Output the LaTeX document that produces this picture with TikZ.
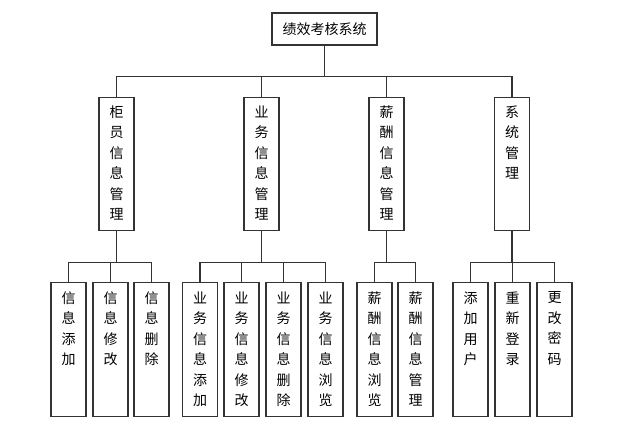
\documentclass[tikz,border=0pt]{standalone}
\usepackage{fontspec}
\setmainfont{Noto Sans CJK SC}
\begin{document}
\begin{tikzpicture}[x=1pt,y=-1pt,
  linecol/.style={draw=black!80, line width=1.2pt},
  rootbox/.style={linecol, fill=white, minimum width=105pt, minimum height=32pt, inner sep=0pt, font=\fontsize{14pt}{20pt}\selectfont},
  vbox/.style={linecol, fill=white, inner sep=0pt, anchor=north, font=\fontsize{14pt}{20.5pt}\selectfont},
  conn/.style={linecol}]
\useasboundingbox (0,0) rectangle (634,428);
\newcommand{\vtxt}[3]{\parbox[c][#1pt][t]{35pt}{\centering\vspace*{#2pt}#3\par}}
\node[rootbox] (root) at (324.5,29) {绩效考核系统};
% level 1
\node[vbox] (a1) at (116.5,97) {\vtxt{133}{8}{柜\\员\\信\\息\\管\\理}};
\node[vbox] (a2) at (261.5,97) {\vtxt{133}{8}{业\\务\\信\\息\\管\\理}};
\node[vbox] (a3) at (386.5,97) {\vtxt{133}{8}{薪\\酬\\信\\息\\管\\理}};
\node[vbox] (a4) at (512,97) {\vtxt{133}{8}{系\\统\\管\\理}};
% level 2
\node[vbox] (b11) at (68.5,282) {\vtxt{134}{9}{信\\息\\添\\加}};
\node[vbox] (b12) at (110.5,282) {\vtxt{134}{9}{信\\息\\修\\改}};
\node[vbox] (b13) at (151.5,282) {\vtxt{134}{9}{信\\息\\删\\除}};
\node[vbox] (b21) at (200,282) {\vtxt{134}{9}{业\\务\\信\\息\\添\\加}};
\node[vbox] (b22) at (241.5,282) {\vtxt{134}{9}{业\\务\\信\\息\\修\\改}};
\node[vbox] (b23) at (283.5,282) {\vtxt{134}{9}{业\\务\\信\\息\\删\\除}};
\node[vbox] (b24) at (325.5,282) {\vtxt{134}{9}{业\\务\\信\\息\\浏\\览}};
\node[vbox] (b31) at (374.5,282) {\vtxt{134}{9}{薪\\酬\\信\\息\\浏\\览}};
\node[vbox] (b32) at (415.5,282) {\vtxt{134}{9}{薪\\酬\\信\\息\\管\\理}};
\node[vbox] (b41) at (470.5,282) {\vtxt{134}{9}{添\\加\\用\\户}};
\node[vbox] (b42) at (512.5,282) {\vtxt{134}{9}{重\\新\\登\\录}};
\node[vbox] (b43) at (554.5,282) {\vtxt{134}{9}{更\\改\\密\\码}};
% connectors
\foreach \c in {a1,a2,a3,a4} \draw[conn] (root.south) -- ++(0,31) -| (\c.north);
\foreach \c in {b11,b12,b13} \draw[conn] (a1.south) -- ++(0,31) -| (\c.north);
\foreach \c in {b21,b22,b23,b24} \draw[conn] (a2.south) -- ++(0,31) -| (\c.north);
\foreach \c in {b31,b32} \draw[conn] (a3.south) -- ++(0,31) -| (\c.north);
\foreach \c in {b41,b42,b43} \draw[conn] (a4.south) -- ++(0,31) -| (\c.north);
\end{tikzpicture}
\end{document}
